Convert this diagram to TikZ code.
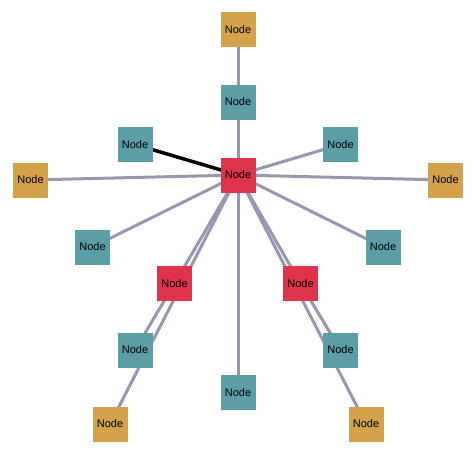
\documentclass[tikz,border=0pt]{standalone}
\usepackage{fontspec}
\setmainfont{Liberation Sans}
\usetikzlibrary{backgrounds}
\definecolor{mygold}{RGB}{212,162,74}
\definecolor{myteal}{RGB}{91,158,166}
\definecolor{myred}{RGB}{224,52,76}
\definecolor{mygray}{RGB}{150,152,178}
\tikzset{
  box/.style={minimum size=35pt,inner sep=0pt,font=\fontsize{11}{13}\selectfont},
  hub/.style={box,fill=myred},
  leaf/.style={box,fill=myteal},
  rim/.style={box,fill=mygold},
  link/.style={draw=mygray,line width=3pt},
  boldlink/.style={draw=black,line width=3.5pt}
}

\begin{document}
\begin{tikzpicture}[x=1pt,y=-1pt]
  \useasboundingbox (0,0) rectangle (474,453);

  % hubs
  \node[hub] (c) at (238,175) {Node};
  \node[hub] (l) at (174.5,283.5) {Node};
  \node[hub] (r) at (300.5,283.5) {Node};

  % inner ring
  \node[leaf] (tt)  at (238,102)     {Node};
  \node[leaf] (ult) at (135,144.5)   {Node};
  \node[leaf] (urt) at (340.5,144.5) {Node};
  \node[leaf] (mlt) at (92.5,247)    {Node};
  \node[leaf] (mrt) at (383,247)     {Node};
  \node[leaf] (llt) at (135,350)     {Node};
  \node[leaf] (lrt) at (340.5,350)   {Node};
  \node[leaf] (bt)  at (238,392.5)   {Node};

  % outer ring
  \node[rim] (tg)  at (238,29.5)  {Node};
  \node[rim] (lg)  at (30.5,180)  {Node};
  \node[rim] (rg)  at (445.5,180) {Node};
  \node[rim] (llg) at (110,424)   {Node};
  \node[rim] (lrg) at (366,424)   {Node};

  % links
  \begin{scope}[on background layer]
    \foreach \a/\b in {c/tt,tt/tg,c/urt,c/lg,c/rg,c/mlt,c/mrt,c/bt,
                       c/l,l/llt,c/llg,c/r,r/lrt,c/lrg}
      \draw[link] (\a.center) -- (\b.center);
    \draw[boldlink] (c.center) -- (ult.center);
  \end{scope}

\end{tikzpicture}
\end{document}
